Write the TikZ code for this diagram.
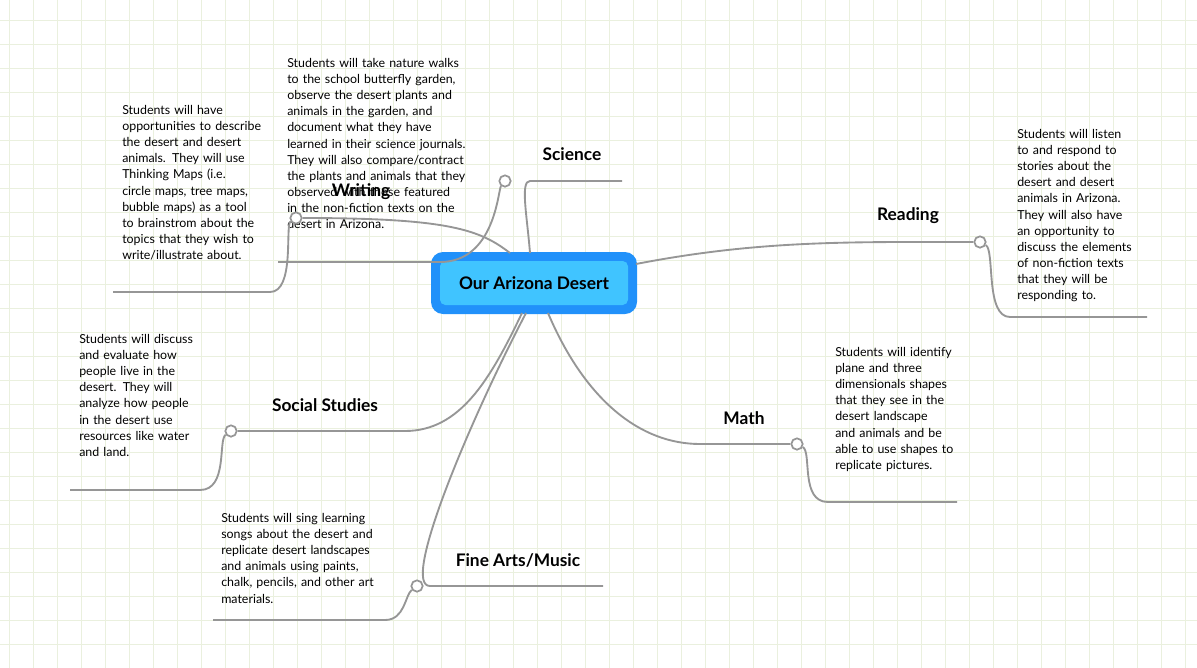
\documentclass[tikz,border=0pt]{standalone}
\usepackage{fontspec}
\setmainfont{Lato}
\usepackage{tikz}
\usetikzlibrary{positioning}
\definecolor{gridc}{RGB}{234,240,222}
\definecolor{branchc}{RGB}{150,150,150}
\definecolor{outerc}{RGB}{33,145,250}
\definecolor{innerc}{RGB}{64,196,255}
\newcommand\nohyph{\hyphenpenalty10000 \exhyphenpenalty10000 }
\tikzset{
  branch/.style={draw=branchc,line width=1.4pt},
  knob/.style={circle,draw=branchc,line width=1.3pt,fill=white,minimum size=8.5pt,inner sep=0pt},
  topic/.style={font=\fontsize{13}{15}\selectfont\bfseries,inner sep=0.75pt},
  note/.style={anchor=north west,inner sep=0pt,align=left,font=\fontsize{9.3}{12.1}\selectfont\nohyph}
}
\begin{document}
\begin{tikzpicture}[x=0.75pt,y=0.75pt,yscale=-1,xscale=1]
\useasboundingbox (0,0) rectangle (1197,668);
% background grid
\foreach \gx in {9,33,...,1197} \draw[gridc,line width=0.6pt] (\gx,0) -- (\gx,668);
\foreach \gy in {20,44,...,668} \draw[gridc,line width=0.6pt] (0,\gy) -- (1197,\gy);

% Central topic
\draw[fill=outerc,draw=none,rounded corners=9pt] (431,252) rectangle (637,314);
\draw[fill=innerc,draw=none,rounded corners=4pt] (440,261) rectangle (628,305);
\node[font=\fontsize{13}{15}\selectfont\bfseries] (center) at (534,283) {Our Arizona Desert};

% Science
\coordinate (sciA) at (530,253);
\node[knob] (sciK) at (505,181) {};
\coordinate (sciE) at (622,181);
\coordinate (sciB) at (440,262);
\coordinate (sciC) at (278,262);
\draw[branch] (sciA) .. controls (527,215) and (520,181) .. (530,181) -- (sciE);
\draw[branch] (sciK) .. controls (498,190) and (495,262) .. (sciB) -- (sciC);
\node[topic] at (572,154) {Science};
\node[note,text width=138pt] at (287,58) {Students will take nature walks to the school butterfly garden, observe the desert plants and animals in the garden, and document what they have learned in their science journals. They will also compare/contract the plants and animals that they observed with those featured in the non-fiction texts on the desert in Arizona.};

% Writing
\coordinate (wriA) at (510,253);
\node[knob] (wriK) at (296,218) {};
\coordinate (wriC) at (113,292);
\draw[branch] (wriA) .. controls (480,230) and (450,218) .. (wriK);
\draw[branch] (wriK) .. controls (285,225) and (295,292) .. (270,292) -- (wriC);
\node[topic] at (361,192) {Writing};
\node[note,text width=106pt] at (122,105) {Students will have opportunities to describe the desert and desert animals. They will use Thinking Maps (i.e. circle maps, tree maps, bubble maps) as a tool to brainstrom about the topics that they wish to write/illustrate about.};

% Reading
\coordinate (reaA) at (636,264);
\node[knob] (reaK) at (980,242) {};
\coordinate (reaC) at (1147,317);
\draw[branch] (reaA) .. controls (760,240) and (850,242) .. (reaK);
\draw[branch] (reaK) .. controls (995,250) and (985,317) .. (1010,317) -- (reaC);
\node[topic] at (908,216) {Reading};
\node[note,text width=93pt] at (1017,129) {Students will listen to and respond to stories about the desert and desert animals in Arizona. They will also have an opportunity to discuss the elements of non-fiction texts that they will be responding to.};

% Math
\coordinate (matA) at (548,313);
\node[knob] (matK) at (797,444) {};
\coordinate (matC) at (957,502);
\draw[branch] (matA) .. controls (585,400) and (640,444) .. (700,444) -- (matK);
\draw[branch] (matK) .. controls (812,452) and (800,502) .. (828,502) -- (matC);
\node[topic] at (744,418) {Math};
\node[note,text width=90pt] at (835,347) {Students will identify plane and three dimensionals shapes that they see in the desert landscape and animals and be able to use shapes to replicate pictures.};

% Social Studies
\coordinate (socA) at (522,313);
\node[knob] (socK) at (231,431) {};
\coordinate (socC) at (70,490);
\draw[branch] (socA) .. controls (490,380) and (460,431) .. (405,431) -- (socK);
\draw[branch] (socK) .. controls (218,440) and (228,490) .. (200,490) -- (socC);
\node[topic] at (325,405) {Social Studies};
\node[note,text width=89pt] at (79,334) {Students will discuss and evaluate how people live in the desert. They will analyze how people in the desert use resources like water and land.};

% Fine Arts/Music
\coordinate (finA) at (526,313);
\node[knob] (finK) at (417,586) {};
\coordinate (finE) at (603,586);
\coordinate (finC) at (213,620);
\draw[branch] (finA) .. controls (470,420) and (400,586) .. (430,586) -- (finE);
\draw[branch] (finK) .. controls (405,595) and (405,620) .. (385,620) -- (finC);
\node[topic] at (518,560) {Fine Arts/Music};
\node[note,text width=124pt] at (221,513) {Students will sing learning songs about the desert and replicate desert landscapes and animals using paints, chalk, pencils, and other art materials.};
\end{tikzpicture}
\end{document}
